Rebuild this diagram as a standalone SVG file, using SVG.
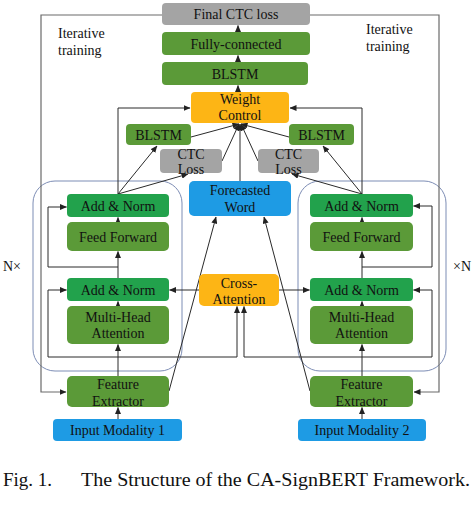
<svg xmlns="http://www.w3.org/2000/svg" width="474" height="521" viewBox="0 0 474 521" font-family="'Liberation Serif','Times New Roman',serif">
<defs>
<marker id="ah" markerWidth="7" markerHeight="6" refX="6.5" refY="3" orient="auto" markerUnits="userSpaceOnUse">
<path d="M0,0 L7,3 L0,6 Z" fill="#222"/>
</marker>
</defs>
<style>
text{font-family:"Liberation Serif","Times New Roman",serif;font-size:14px;fill:#111;text-anchor:middle}
.g{fill:#5b9a38}
.b{fill:#22a24c}
.gr{fill:#a4a4a4}
.o{fill:#fdb515}
.bl{fill:#1e9be4}
.blk{fill:none;stroke:#7d8db5;stroke-width:1}
.c{fill:none;stroke:#2a2a2a;stroke-width:1}
.it{fill:none;stroke:#6a6a6a;stroke-width:1.2}
.lbl{text-anchor:start}
</style>
<rect width="474" height="521" fill="#fff"/>

<!-- encoder block outlines -->
<rect class="blk" x="33" y="181" width="149" height="190" rx="22"/>
<rect class="blk" x="298" y="181" width="148" height="190" rx="22"/>

<g id="connectors">
<path class="it" d="M162,15 H41 V392 H66" marker-end="url(#ah)"/>
<path class="it" d="M310,15 H439 V392 H414" marker-end="url(#ah)"/>
<line class="c" x1="238" y1="92" x2="238" y2="85.5" marker-end="url(#ah)"/>
<line class="c" x1="238" y1="62" x2="238" y2="55.5" marker-end="url(#ah)"/>
<line class="c" x1="238" y1="32" x2="238" y2="25.5" marker-end="url(#ah)"/>
<line class="c" x1="191" y1="137" x2="239" y2="124" marker-end="url(#ah)"/>
<line class="c" x1="222" y1="161" x2="239" y2="124" marker-end="url(#ah)"/>
<line class="c" x1="240" y1="181" x2="240" y2="124" marker-end="url(#ah)"/>
<line class="c" x1="258" y1="161" x2="241" y2="124" marker-end="url(#ah)"/>
<line class="c" x1="289" y1="137" x2="241" y2="124" marker-end="url(#ah)"/>
<path class="c" d="M118,194 V108 H190" marker-end="url(#ah)"/>
<line class="c" x1="118" y1="194" x2="157" y2="146" marker-end="url(#ah)"/>
<line class="c" x1="118" y1="194" x2="188" y2="174" marker-end="url(#ah)"/>
<path class="c" d="M362,194 V108 H290" marker-end="url(#ah)"/>
<line class="c" x1="362" y1="194" x2="323" y2="146" marker-end="url(#ah)"/>
<line class="c" x1="362" y1="194" x2="292" y2="174" marker-end="url(#ah)"/>
<line class="c" x1="118" y1="376" x2="118" y2="344.5" marker-end="url(#ah)"/>
<line class="c" x1="118" y1="306" x2="118" y2="301.5" marker-end="url(#ah)"/>
<line class="c" x1="118" y1="278" x2="118" y2="251.5" marker-end="url(#ah)"/>
<line class="c" x1="118" y1="222" x2="118" y2="217.5" marker-end="url(#ah)"/>
<line class="c" x1="118" y1="419" x2="118" y2="407.5" marker-end="url(#ah)"/>
<path class="c" d="M118,267 H48 V207 H66.5" marker-end="url(#ah)"/>
<path class="c" d="M237,357 H48 V290 H66.5" marker-end="url(#ah)"/>
<line class="c" x1="237" y1="357" x2="237" y2="306.5" marker-end="url(#ah)"/>
<line class="c" x1="362" y1="376" x2="362" y2="344.5" marker-end="url(#ah)"/>
<line class="c" x1="362" y1="306" x2="362" y2="301.5" marker-end="url(#ah)"/>
<line class="c" x1="362" y1="278" x2="362" y2="251.5" marker-end="url(#ah)"/>
<line class="c" x1="362" y1="222" x2="362" y2="217.5" marker-end="url(#ah)"/>
<line class="c" x1="362" y1="419" x2="362" y2="407.5" marker-end="url(#ah)"/>
<path class="c" d="M362,267 H432 V206 H413.5" marker-end="url(#ah)"/>
<path class="c" d="M244,357 H432 V290 H413.5" marker-end="url(#ah)"/>
<line class="c" x1="244" y1="357" x2="244" y2="306.5" marker-end="url(#ah)"/>
<line class="c" x1="199" y1="290" x2="169.5" y2="290" marker-end="url(#ah)"/>
<line class="c" x1="279" y1="290" x2="309.5" y2="290" marker-end="url(#ah)"/>
<line class="c" x1="169" y1="391" x2="216" y2="217" marker-end="url(#ah)"/>
<line class="c" x1="310" y1="391" x2="264" y2="217" marker-end="url(#ah)"/>
</g>

<g id="final-ctc"><rect class="gr" x="162" y="3" width="148" height="22" rx="4"/><text x="236" y="19">Final CTC loss</text></g>
<g id="fc"><rect class="g" x="162" y="32" width="148" height="23" rx="4"/><text x="236" y="48.5">Fully-connected</text></g>
<g id="blstm-top"><rect class="g" x="162" y="62" width="146" height="23" rx="4"/><text x="235" y="78.5">BLSTM</text></g>
<g id="weight-control"><rect class="o" x="191" y="92" width="98" height="31" rx="4"/><text x="240" y="104">Weight</text><text x="240" y="120">Control</text></g>
<g id="blstm-left"><rect class="g" x="126" y="124" width="65" height="21" rx="4"/><text x="158.5" y="139.5">BLSTM</text></g>
<g id="blstm-right"><rect class="g" x="289" y="124" width="65" height="21" rx="4"/><text x="321.5" y="139.5">BLSTM</text></g>
<g id="ctc-left"><rect class="gr" x="160" y="149" width="62" height="24" rx="4"/><text x="191" y="158.5">CTC</text><text x="191" y="173.5">Loss</text></g>
<g id="ctc-right"><rect class="gr" x="258" y="149" width="61" height="24" rx="4"/><text x="288.5" y="158.5">CTC</text><text x="288.5" y="173.5">Loss</text></g>
<g id="forecasted-word"><rect class="bl" x="189" y="181" width="102" height="35" rx="5"/><text x="240" y="194.5">Forecasted</text><text x="240" y="211.5">Word</text></g>
<g id="cross-attention"><rect class="o" x="199" y="274" width="80" height="32" rx="5"/><text x="239" y="287.5">Cross-</text><text x="239" y="303.5">Attention</text></g>

<g id="left-addnorm-top"><rect class="b" x="67" y="194" width="102" height="23" rx="4"/><text x="118" y="210.5">Add &amp; Norm</text></g>
<g id="left-ff"><rect class="g" x="67" y="222" width="102" height="29" rx="5"/><text x="118" y="241.5">Feed Forward</text></g>
<g id="left-addnorm-bottom"><rect class="b" x="67" y="278" width="102" height="23" rx="4"/><text x="118" y="294.5">Add &amp; Norm</text></g>
<g id="left-mha"><rect class="g" x="67" y="306" width="102" height="38" rx="5"/><text x="118" y="321.5">Multi-Head</text><text x="118" y="337.5">Attention</text></g>
<g id="left-fe"><rect class="g" x="67" y="376" width="102" height="31" rx="5"/><text x="118" y="388.5">Feature</text><text x="118" y="405.5">Extractor</text></g>
<g id="input1"><rect class="bl" x="53" y="419" width="129" height="22" rx="4"/><text x="117.5" y="434.5">Input Modality 1</text></g>

<g id="right-addnorm-top"><rect class="b" x="310" y="194" width="103" height="23" rx="4"/><text x="361.5" y="210.5">Add &amp; Norm</text></g>
<g id="right-ff"><rect class="g" x="310" y="222" width="103" height="29" rx="5"/><text x="361.5" y="241.5">Feed Forward</text></g>
<g id="right-addnorm-bottom"><rect class="b" x="310" y="278" width="103" height="23" rx="4"/><text x="361.5" y="294.5">Add &amp; Norm</text></g>
<g id="right-mha"><rect class="g" x="310" y="306" width="103" height="38" rx="5"/><text x="361.5" y="321.5">Multi-Head</text><text x="361.5" y="337.5">Attention</text></g>
<g id="right-fe"><rect class="g" x="310" y="376" width="103" height="31" rx="5"/><text x="361.5" y="388.5">Feature</text><text x="361.5" y="405.5">Extractor</text></g>
<g id="input2"><rect class="bl" x="298" y="419" width="128" height="22" rx="4"/><text x="362" y="434.5">Input Modality 2</text></g>

<g id="labels">
<text class="lbl" x="58" y="38">Iterative</text>
<text class="lbl" x="58" y="55">training</text>
<text class="lbl" x="366" y="34">Iterative</text>
<text class="lbl" x="366" y="51">training</text>
<text class="lbl" x="3" y="271">N×</text>
<text class="lbl" x="453" y="271">×N</text>
<text class="lbl" x="3" y="486" style="font-size:19px">Fig. 1.</text>
<text class="lbl" x="81" y="486" style="font-size:19px" textLength="389" lengthAdjust="spacingAndGlyphs">The Structure of the CA-SignBERT Framework.</text>
</g>
</svg>
